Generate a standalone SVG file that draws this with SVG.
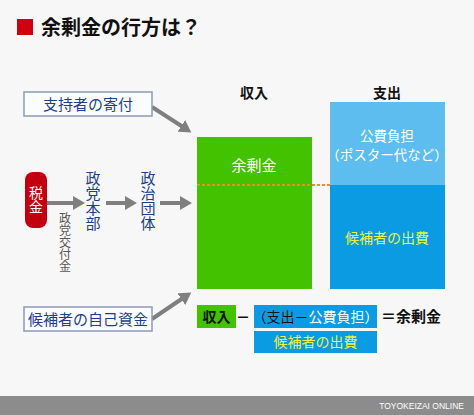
<svg xmlns="http://www.w3.org/2000/svg" width="474" height="415" viewBox="0 0 474 415">
<style>
text{font-family:"Noto Sans CJK JP","Noto Sans",sans-serif}
.lbl{fill:#1d3f8a;font-size:15px}
.vt{writing-mode:vertical-rl;text-orientation:upright}
.box{fill:#fbfcfe;stroke:#8a9bb8;stroke-width:1.5}
.conn{stroke:#7f7f7f;stroke-width:4;fill:none}
.hdr{font-size:14px;font-weight:bold;fill:#111}
.w{fill:#fff}
.y{fill:#eef23a}
</style>
<defs>
<marker id="ah" markerUnits="userSpaceOnUse" markerWidth="14" markerHeight="14" refX="2" refY="7" orient="auto">
<path d="M0,0 L12,7 L0,14 Z" fill="#7f7f7f"/>
</marker>
</defs>
<rect width="474" height="415" fill="#f7f7f7"/>
<g id="title">
<rect x="17" y="19" width="16" height="16" fill="#d0000c"/>
<text x="41" y="35" font-size="20" font-weight="bold" fill="#111">余剰金の行方は？</text>
</g>
<g id="connectors">
<line class="conn" x1="152" y1="107" x2="183" y2="127" marker-end="url(#ah)"/>
<line class="conn" x1="47" y1="203" x2="75" y2="203" marker-end="url(#ah)"/>
<line class="conn" x1="106" y1="203" x2="127" y2="203" marker-end="url(#ah)"/>
<line class="conn" x1="160" y1="203" x2="182" y2="203" marker-end="url(#ah)"/>
<line class="conn" x1="152" y1="319" x2="183" y2="298" marker-end="url(#ah)"/>
</g>
<g id="kifu">
<rect class="box" x="24" y="92" width="128" height="24"/>
<text class="lbl" x="88" y="109.5" text-anchor="middle">支持者の寄付</text>
</g>
<g id="jiko">
<rect class="box" x="24" y="307" width="128" height="24"/>
<text class="lbl" x="88" y="324.5" text-anchor="middle">候補者の自己資金</text>
</g>
<g id="zeikin">
<rect x="25" y="172" width="22" height="56" rx="8" fill="#c3000d"/>
<text class="vt w" x="36" y="186" font-size="14">税金</text>
</g>
<g id="koufukin">
<text class="vt" x="65" y="212" font-size="12" fill="#555">政党交付金</text>
</g>
<g id="honbu">
<text class="vt lbl" x="93" y="171">政党本部</text>
</g>
<g id="dantai">
<text class="vt lbl" x="148" y="171">政治団体</text>
</g>
<g id="shunyu">
<text class="hdr" x="254" y="98" text-anchor="middle">収入</text>
<rect x="197" y="137" width="115" height="152" fill="#43c200"/>
<text x="254" y="171" font-size="15" class="w" text-anchor="middle">余剰金</text>
</g>
<g id="shishutsu">
<text class="hdr" x="387" y="98" text-anchor="middle">支出</text>
<rect x="330" y="102" width="115" height="83" fill="#5cbdee"/>
<rect x="330" y="185" width="115" height="104" fill="#0a9be3"/>
<text font-size="13.5" class="w" text-anchor="middle"><tspan x="387" y="141">公費負担</tspan><tspan x="387" y="160">（ポスター代など）</tspan></text>
<text x="387" y="243" font-size="14" class="y" text-anchor="middle">候補者の出費</text>
</g>
<line x1="197" y1="185" x2="330" y2="185" stroke="#f08a2c" stroke-width="2" stroke-dasharray="3,2"/>
<g id="formula">
<rect x="197" y="305" width="39" height="23" fill="#43c200"/>
<text x="216.5" y="322" font-size="14" font-weight="bold" fill="#111" text-anchor="middle">収入</text>
<text x="243" y="322" font-size="14" font-weight="bold" fill="#111" text-anchor="middle">－</text>
<rect x="254" y="305" width="123" height="23" fill="#0a9be3"/>
<text x="315.5" y="322" font-size="14" text-anchor="middle"><tspan fill="#111">（支出－</tspan><tspan fill="#fff">公費負担）</tspan></text>
<text x="381" y="322" font-size="15" font-weight="bold" fill="#111">＝余剰金</text>
<rect x="254" y="331" width="123" height="22" fill="#0a9be3"/>
<text x="315.5" y="347" font-size="14" class="y" text-anchor="middle">候補者の出費</text>
</g>
<g id="footer">
<rect x="0" y="396" width="474" height="19" fill="#8c8c8c"/>
<text x="464" y="409" font-size="8.5" fill="#fff" text-anchor="end" style="font-family:'Liberation Sans',sans-serif">TOYOKEIZAI ONLINE</text>
</g>
</svg>
